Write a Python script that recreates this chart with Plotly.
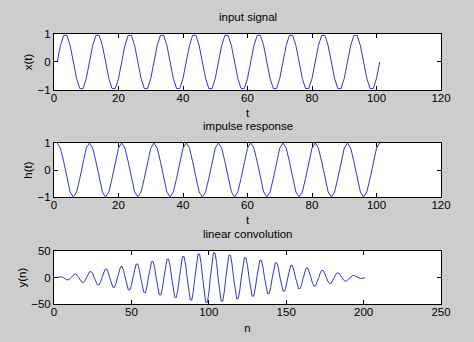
import plotly.graph_objects as go

# input signal x(t), samples 1..101
x_vals = [0, 0.59, 0.95, 0.95, 0.59, 0, -0.59, -0.95, -0.95, -0.59,
          0, 0.59, 0.95, 0.95, 0.59, 0, -0.59, -0.95, -0.95, -0.59,
          0, 0.59, 0.95, 0.95, 0.59, 0, -0.59, -0.95, -0.95, -0.59,
          0, 0.59, 0.95, 0.95, 0.59, 0, -0.59, -0.95, -0.95, -0.59,
          0, 0.59, 0.95, 0.95, 0.59, 0, -0.59, -0.95, -0.95, -0.59,
          0, 0.59, 0.95, 0.95, 0.59, 0, -0.59, -0.95, -0.95, -0.59,
          0, 0.59, 0.95, 0.95, 0.59, 0, -0.59, -0.95, -0.95, -0.59,
          0, 0.59, 0.95, 0.95, 0.59, 0, -0.59, -0.95, -0.95, -0.59,
          0, 0.59, 0.95, 0.95, 0.59, 0, -0.59, -0.95, -0.95, -0.59,
          0, 0.59, 0.95, 0.95, 0.59, 0, -0.59, -0.95, -0.95, -0.59,
          0]

# impulse response h(t), samples 1..101
h_vals = [1, 0.81, 0.31, -0.31, -0.81, -1, -0.81, -0.31, 0.31, 0.81,
          1, 0.81, 0.31, -0.31, -0.81, -1, -0.81, -0.31, 0.31, 0.81,
          1, 0.81, 0.31, -0.31, -0.81, -1, -0.81, -0.31, 0.31, 0.81,
          1, 0.81, 0.31, -0.31, -0.81, -1, -0.81, -0.31, 0.31, 0.81,
          1, 0.81, 0.31, -0.31, -0.81, -1, -0.81, -0.31, 0.31, 0.81,
          1, 0.81, 0.31, -0.31, -0.81, -1, -0.81, -0.31, 0.31, 0.81,
          1, 0.81, 0.31, -0.31, -0.81, -1, -0.81, -0.31, 0.31, 0.81,
          1, 0.81, 0.31, -0.31, -0.81, -1, -0.81, -0.31, 0.31, 0.81,
          1, 0.81, 0.31, -0.31, -0.81, -1, -0.81, -0.31, 0.31, 0.81,
          1, 0.81, 0.31, -0.31, -0.81, -1, -0.81, -0.31, 0.31, 0.81,
          1]

# linear convolution y(n), samples 1..201
y_vals = [0, 0.59, 1.43, 1.90, 1.47, 0, -2.06, -3.80, -4.28, -2.94,
          0, 3.53, 6.18, 6.66, 4.41, 0, -5.00, -8.56, -9.04, -5.88,
          0, 6.47, 10.94, 11.41, 7.35, 0, -7.94, -13.32, -13.79, -8.82,
          0, 9.40, 15.69, 16.17, 10.29, 0, -10.87, -18.07, -18.55, -11.76,
          0, 12.34, 20.45, 20.92, 13.23, 0, -13.81, -22.83, -23.30, -14.70,
          0, 15.28, 25.20, 25.68, 16.16, 0, -16.75, -27.58, -28.06, -17.63,
          0, 18.22, 29.96, 30.44, 19.10, 0, -19.69, -32.34, -32.81, -20.57,
          0, 21.16, 34.72, 35.19, 22.04, 0, -22.63, -37.09, -37.57, -23.51,
          0, 24.10, 39.47, 39.95, 24.98, 0, -25.57, -41.85, -42.32, -26.45,
          0, 27.04, 44.23, 44.70, 27.92, 0, -28.51, -46.60, -47.08, -29.39,
          0, 29.39, 47.08, 46.60, 28.51, 0, -27.92, -44.70, -44.23, -27.04,
          0, 26.45, 42.32, 41.85, 25.57, 0, -24.98, -39.95, -39.47, -24.10,
          0, 23.51, 37.57, 37.09, 22.63, 0, -22.04, -35.19, -34.72, -21.16,
          0, 20.57, 32.81, 32.34, 19.69, 0, -19.10, -30.44, -29.96, -18.22,
          0, 17.63, 28.06, 27.58, 16.75, 0, -16.16, -25.68, -25.20, -15.28,
          0, 14.70, 23.30, 22.83, 13.81, 0, -13.23, -20.92, -20.45, -12.34,
          0, 11.76, 18.55, 18.07, 10.87, 0, -10.29, -16.17, -15.69, -9.40,
          0, 8.82, 13.79, 13.32, 7.94, 0, -7.35, -11.41, -10.94, -6.47,
          0, 5.88, 9.04, 8.56, 5.00, 0, -4.41, -6.66, -6.18, -3.53,
          0, 2.94, 4.28, 3.80, 2.06, 0, -1.47, -1.90, -1.43, -0.59,
          0]

titles = ["input signal", "impulse response", "linear convolution"]
xlabels = ["t", "t", "n"]
ylabels = ["x(t)", "h(t)", "y(n)"]
x_ranges = [[0, 120], [0, 120], [0, 250]]
x_dticks = [20, 20, 50]
y_ranges = [[-1, 1], [-1, 1], [-50, 50]]
y_dticks = [1, 1, 50]

W, H = 474, 342
FONT = "Liberation Sans, Arial, sans-serif"
LINE = "#3434cc"
BG = "#cdcdcd"

# pixel boxes (top, bottom) of each axes
boxes = [(29, 87), (142, 198), (254, 309)]

fig = go.Figure()
series = [x_vals, h_vals, y_vals]
for i, vals in enumerate(series):
    idx = "" if i == 0 else str(i + 1)
    fig.add_trace(go.Scatter(
        x=list(range(1, len(vals) + 1)), y=vals, mode="lines",
        line=dict(color=LINE, width=1), xaxis="x" + idx, yaxis="y" + idx,
        showlegend=False, hoverinfo="skip"))

layout = dict(
    width=W, height=H, paper_bgcolor=BG, plot_bgcolor="white",
    margin=dict(l=54, r=33, t=0, b=0),
    font=dict(family=FONT, size=11.5, color="black"),
    showlegend=False,
)
annotations = []
for i in range(3):
    idx = "" if i == 0 else str(i + 1)
    top, bot = boxes[i]
    dom = [1 - bot / H, 1 - top / H]
    common = dict(showline=True, linecolor="black", linewidth=1, mirror="allticks",
                  ticks="inside", ticklen=4, tickcolor="black", showgrid=False,
                  zeroline=False, tickfont=dict(family=FONT, size=11.5, color="black"))
    layout["xaxis" + idx] = dict(
        common, domain=[0, 1], range=x_ranges[i], dtick=x_dticks[i], tick0=0,
        anchor="y" + idx, ticklabelstandoff=-3,
        title=dict(text=xlabels[i], standoff=6, font=dict(family=FONT, size=11.5)))
    layout["yaxis" + idx] = dict(
        common, domain=dom, range=y_ranges[i], dtick=y_dticks[i], tick0=0,
        anchor="x" + idx,
        title=dict(text=ylabels[i], standoff=2, font=dict(family=FONT, size=11.5)))
    annotations.append(dict(
        text=titles[i], xref="paper", yref="paper", x=0.5, y=1 - (top - 9) / H,
        xanchor="center", yanchor="bottom", showarrow=False,
        font=dict(family=FONT, size=11.5, color="black")))
layout["annotations"] = annotations
fig.update_layout(**layout)
fig.write_html("out.html")
